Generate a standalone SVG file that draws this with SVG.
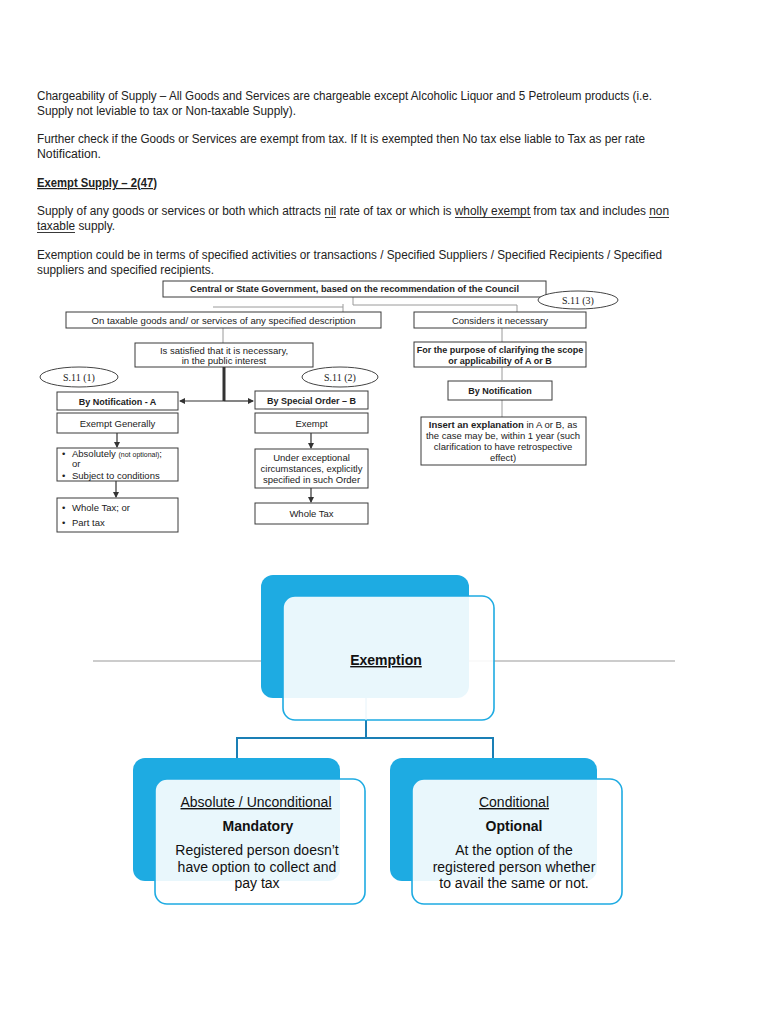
<svg xmlns="http://www.w3.org/2000/svg" width="768" height="1024" viewBox="0 0 768 1024">
<defs>
<style>
.p{font-family:"Liberation Sans",Arial,sans-serif;font-size:12px;fill:#222}
.u{text-decoration:underline}
.b{font-weight:bold}
.ul{stroke:#222;stroke-width:0.9}
.box{fill:#fff;stroke:#3a3a3a;stroke-width:1}
.ft{font-family:"Liberation Sans",Arial,sans-serif;font-size:9.5px;fill:#222;text-anchor:middle}
.ftb{font-family:"Liberation Sans",Arial,sans-serif;font-size:9px;font-weight:bold;fill:#222;text-anchor:middle}
.fl{font-family:"Liberation Sans",Arial,sans-serif;font-size:9.5px;fill:#222}
.ell{fill:#fff;stroke:#444;stroke-width:1}
.et{font-family:"Liberation Serif","Times New Roman",serif;font-size:10px;fill:#222;text-anchor:middle}
.thin{stroke:#9a9a9a;stroke-width:1;fill:none}
.dark{stroke:#333;stroke-width:1.2;fill:none}
.back{fill:#1EABE2}
.front{fill:#fff;fill-opacity:0.9;stroke:#1EABE2;stroke-width:1.6}
.bt{font-family:"Liberation Sans",Arial,sans-serif;font-size:14px;fill:#111;text-anchor:middle}
.conn{stroke:#1a7fb5;stroke-width:2;fill:none}
</style>
<marker id="ah" viewBox="0 0 6 6" refX="5" refY="3" markerWidth="5" markerHeight="5" orient="auto"><path d="M0,0 L6,3 L0,6 z" fill="#333"/></marker>
</defs>

<g id="text-intro">
<text class="p" x="37" y="100" textLength="615" lengthAdjust="spacingAndGlyphs">Chargeability of Supply – All Goods and Services are chargeable except Alcoholic Liquor and 5 Petroleum products (i.e.</text>
<text class="p" x="37" y="115" textLength="259" lengthAdjust="spacingAndGlyphs">Supply not leviable to tax or Non-taxable Supply).</text>
<text class="p" x="37" y="143" textLength="608" lengthAdjust="spacingAndGlyphs">Further check if the Goods or Services are exempt from tax. If It is exempted then No tax else liable to Tax as per rate</text>
<text class="p" x="37" y="158" textLength="64" lengthAdjust="spacingAndGlyphs">Notification.</text>
<text class="p b u" x="37" y="187" textLength="120" lengthAdjust="spacingAndGlyphs">Exempt Supply – 2(47)</text>
<text class="p" x="37" y="215" textLength="632" lengthAdjust="spacingAndGlyphs">Supply of any goods or services or both which attracts nil rate of tax or which is wholly exempt from tax and includes non</text>
<line class="ul" x1="325" y1="217.5" x2="336" y2="217.5"/>
<line class="ul" x1="455" y1="217.5" x2="531" y2="217.5"/>
<line class="ul" x1="649" y1="217.5" x2="669" y2="217.5"/>
<text class="p" x="37" y="230" textLength="78" lengthAdjust="spacingAndGlyphs">taxable supply.</text>
<line class="ul" x1="37" y1="232.5" x2="75" y2="232.5"/>
<text class="p" x="37" y="259" textLength="625" lengthAdjust="spacingAndGlyphs">Exemption could be in terms of specified activities or transactions / Specified Suppliers / Specified Recipients / Specified</text>
<text class="p" x="37" y="274" textLength="177" lengthAdjust="spacingAndGlyphs">suppliers and specified recipients.</text>
</g>

<g id="flow-connectors">
<path class="thin" d="M353,297 V305 H517 V312"/>
<path class="thin" d="M213,307 H343 M343,304 V312"/>
<path class="thin" d="M223,328 V343"/>
<path d="M224,367 V401" stroke="#333" stroke-width="3" fill="none"/>
<path class="dark" d="M224,401 H180" marker-end="url(#ah)"/>
<path class="dark" d="M224,401 H253" marker-end="url(#ah)"/>
<path class="dark" d="M117,433 V447" marker-end="url(#ah)"/>
<path class="dark" d="M116,481 V497" marker-end="url(#ah)"/>
<path class="dark" d="M311,433 V448" marker-end="url(#ah)"/>
<path class="dark" d="M311,488 V502" marker-end="url(#ah)"/>
<path class="thin" d="M502,328 V342 M502,367 V380 M502,400 V417"/>
</g>

<g id="n-central"><rect class="box" x="163" y="281" width="383" height="16"/><text class="ftb" x="354.5" y="292" textLength="329" lengthAdjust="spacingAndGlyphs">Central or State Government, based on the recommendation of the Council</text></g>
<g id="n-s113"><ellipse class="ell" cx="578" cy="300" rx="40" ry="9"/><text class="et" x="578" y="304">S.11 (3)</text></g>
<g id="n-taxable"><rect class="box" x="66" y="312" width="315" height="16"/><text class="ft" x="223.5" y="323.5" textLength="264" lengthAdjust="spacingAndGlyphs">On taxable goods and/ or services of any specified description</text></g>
<g id="n-considers"><rect class="box" x="414" y="312" width="172" height="16"/><text class="ft" x="500" y="323.5">Considers it necessary</text></g>
<g id="n-satisfied"><rect class="box" x="135" y="343" width="178" height="24"/><text class="ft" x="224" y="353.5">Is satisfied that it is necessary,</text><text class="ft" x="224" y="364">in the public interest</text></g>
<g id="n-purpose"><rect class="box" x="414" y="342" width="172" height="25" stroke-width="1.3"/><text class="ftb" x="500" y="352.5">For the purpose of clarifying the scope</text><text class="ftb" x="500" y="363.5">or applicability of A or B</text></g>
<g id="n-bynotif"><rect class="box" x="448" y="381" width="104" height="19"/><text class="ftb" x="500" y="394">By Notification</text></g>
<g id="n-insert"><rect class="box" x="421" y="417" width="165" height="48"/><text class="ft" x="503" y="427.5"><tspan font-weight="bold">Insert an explanation</tspan> in A or B, as</text><text class="ft" x="503" y="438.5">the case may be, within 1 year (such</text><text class="ft" x="503" y="449.5">clarification to have retrospective</text><text class="ft" x="503" y="460.5">effect)</text></g>

<g id="n-s111"><ellipse class="ell" cx="79" cy="377" rx="39" ry="10"/><text class="et" x="79" y="381">S.11 (1)</text></g>
<g id="n-notifA"><rect class="box" x="57" y="392" width="121" height="18"/><text class="ftb" x="117.5" y="404.5">By Notification - A</text></g>
<g id="n-exgen"><rect class="box" x="57" y="413" width="121" height="20"/><text class="ft" x="117.5" y="426.5">Exempt Generally</text></g>
<g id="n-absolutely"><rect class="box" x="57" y="448" width="121" height="33"/><text class="fl" x="62" y="456.5">•</text><text class="fl" x="72" y="456.5">Absolutely <tspan font-size="7">(not optional)</tspan>;</text><text class="fl" x="72" y="467" font-size="7.5">or</text><text class="fl" x="62" y="479">•</text><text class="fl" x="72" y="479">Subject to conditions</text></g>
<g id="n-wholepart"><rect class="box" x="57" y="498" width="121" height="34"/><text class="fl" x="62" y="510.5">•</text><text class="fl" x="72" y="510.5">Whole Tax; or</text><text class="fl" x="62" y="525.5">•</text><text class="fl" x="72" y="525.5">Part tax</text></g>

<g id="n-s112"><ellipse class="ell" cx="340" cy="377" rx="38" ry="10"/><text class="et" x="340" y="381">S.11 (2)</text></g>
<g id="n-orderB"><rect class="box" x="255" y="391" width="113" height="18"/><text class="ftb" x="311.5" y="403.5">By Special Order – B</text></g>
<g id="n-exempt"><rect class="box" x="255" y="413" width="113" height="20"/><text class="ft" x="311.5" y="426.5">Exempt</text></g>
<g id="n-under"><rect class="box" x="255" y="449" width="113" height="39"/><text class="ft" x="311.5" y="461">Under exceptional</text><text class="ft" x="311.5" y="472">circumstances, explicitly</text><text class="ft" x="311.5" y="483">specified in such Order</text></g>
<g id="n-wholetax"><rect class="box" x="255" y="503" width="113" height="21"/><text class="ft" x="311.5" y="517">Whole Tax</text></g>

<g id="connectors">
<line x1="93" y1="661" x2="675" y2="661" stroke="#9a9a9a" stroke-width="1.2"/>
<path class="conn" d="M366,720 V738 M237,760 V738 H493 V760"/>
</g>

<g id="n-exemption">
<rect class="back" x="261" y="575" width="208" height="123" rx="12"/>
<rect class="front" x="283" y="596" width="211" height="124" rx="12"/>
<line x1="366" y1="698" x2="366" y2="720" stroke="#e6f3fa" stroke-width="1"/>
<text class="bt b u" x="386" y="665">Exemption</text>
</g>

<g id="n-absolute">
<rect class="back" x="133" y="758" width="207" height="123" rx="12"/>
<rect class="front" x="155" y="779" width="210" height="125" rx="12"/>
<text class="bt u" x="256" y="807">Absolute / Unconditional</text>
<text class="bt b" x="258" y="831">Mandatory</text>
<text class="bt" x="257" y="855">Registered person doesn’t</text>
<text class="bt" x="257" y="872">have option to collect and</text>
<text class="bt" x="257" y="888">pay tax</text>
</g>

<g id="n-conditional">
<rect class="back" x="390" y="758" width="207" height="123" rx="12"/>
<rect class="front" x="412" y="779" width="210" height="125" rx="12"/>
<text class="bt u" x="514" y="807">Conditional</text>
<text class="bt b" x="514" y="831">Optional</text>
<text class="bt" x="514" y="855">At the option of the</text>
<text class="bt" x="514" y="872">registered person whether</text>
<text class="bt" x="514" y="888">to avail the same or not.</text>
</g>
</svg>
